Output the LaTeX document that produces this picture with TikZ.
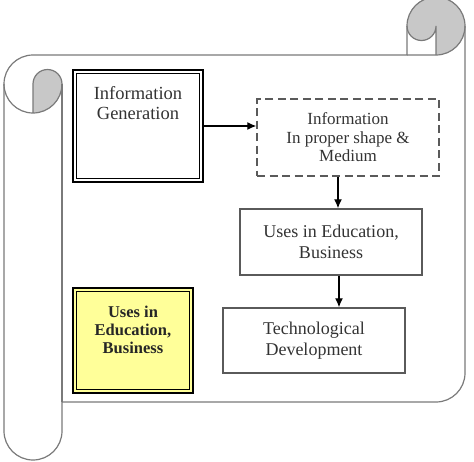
\documentclass[tikz,border=0pt]{standalone}
\usepackage{fontspec}
\setmainfont{Liberation Serif}
\usepackage{xcolor}
\usepackage{tikz}
\usetikzlibrary{arrows.meta}

\definecolor{scrollgray}{HTML}{7A7A7A}
\definecolor{curlgray}{HTML}{C8C8C8}
\definecolor{boxgray}{HTML}{5A5A5A}
\definecolor{textgray}{HTML}{333333}
\definecolor{noteyellow}{HTML}{FFFF99}

\begin{document}
\begin{tikzpicture}[
    x=1pt, y=-1pt,
    scroll/.style={draw=scrollgray, line width=1.2pt},
    curl/.style={fill=curlgray},
    box/.style={draw=boxgray, line width=1.4pt, align=center, text=textgray, font=\fontsize{18}{20.5}\selectfont, minimum width=182pt},
    dashbox/.style={box, dash pattern=on 8pt off 4.5pt},
    dblbox/.style={draw=black, line width=2.2pt, inner sep=2pt, align=center, text=textgray,
      path picture={\draw[line width=1pt] ([shift={(3.5pt,-3.5pt)}]path picture bounding box.north west) rectangle ([shift={(-3.5pt,3.5pt)}]path picture bounding box.south east);}},
    arr/.style={-{Latex[length=9pt,width=8pt]}, line width=1.3pt}
  ]
    \useasboundingbox (0,0) rectangle (474,461);

    % scroll: curls first, then outline
    \fill[curl] (33,113) arc[start angle=90, delta angle=-90, radius=29] arc[start angle=0, delta angle=-180, radius=14.5] -- cycle;
    \fill[curl] (436,55) arc[start angle=90, delta angle=-270, radius=29] arc[start angle=180, delta angle=-180, radius=14.5] -- cycle;
    \draw[scroll] (4,84) arc[start angle=180, delta angle=90, radius=29] -- (407,55) -- (407,26)
      arc[start angle=180, delta angle=180, radius=29] -- (465,373)
      arc[start angle=0, delta angle=90, radius=29] -- (62,402) -- (62,431)
      arc[start angle=0, delta angle=180, radius=29] -- cycle;
    \draw[scroll] (407,55) -- (436,55) arc[start angle=90, delta angle=-90, radius=29];
    \draw[scroll] (436,55) -- (436,26) arc[start angle=0, delta angle=180, radius=14.5];
    \draw[scroll] (33,113) -- (33,84) arc[start angle=180, delta angle=180, radius=14.5] arc[start angle=0, delta angle=180, radius=29];
    \draw[scroll] (62,84) -- (62,402);

    \node[dblbox, minimum width=130pt, minimum height=112pt, font=\fontsize{18.5}{20}\selectfont] (gen) at (138,126)
      {\parbox[c][80pt][t]{118pt}{\centering Information\\Generation}};
    \node[dashbox, minimum height=77pt, font=\fontsize{17}{18.5}\selectfont] (dash) at (348,137.5) {Information\\In proper shape \&\\Medium};
    \node[box, minimum height=66pt] (uses) at (331,242) {Uses in Education,\\Business};
    \node[box, minimum height=65pt] (tech) at (314,340.5) {Technological\\Development};
    \node[dblbox, fill=noteyellow, text=black!85, minimum width=120pt, minimum height=105pt, font=\bfseries\fontsize{16.5}{18}\selectfont] (note) at (133,340.5)
      {\parbox[c][69pt][t]{108pt}{\centering Uses in\\Education,\\Business}};

    \coordinate (d1) at ([xshift=-10pt]dash.south);
    \coordinate (u1) at ([xshift=8pt]uses.south);
    \draw[arr] (gen.east) -- (gen.east -| dash.west);
    \draw[arr] (d1) -- (d1 |- uses.north);
    \draw[arr] (u1) -- (u1 |- tech.north);
  \end{tikzpicture}
\end{document}
